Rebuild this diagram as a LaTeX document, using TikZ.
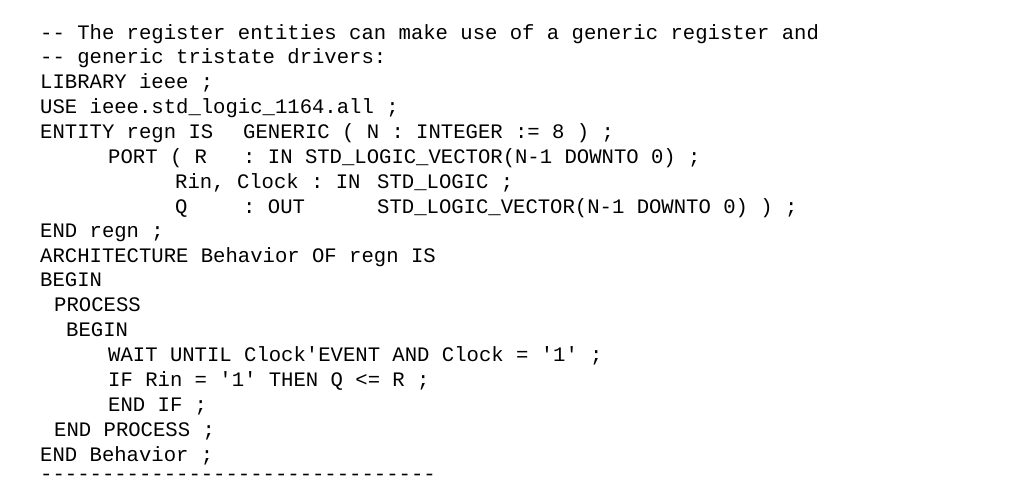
\documentclass[tikz,border=0pt]{standalone}
\usepackage{fontspec}
\setmonofont{Liberation Mono}
\begin{document}
\begin{tikzpicture}[x=1pt,y=-1pt,t/.style={anchor=base west,inner sep=0pt,font=\ttfamily\fontsize{20.6}{22}\selectfont}]
\useasboundingbox (0,0) rectangle (1024,483);
\fill[white] (0,0) rectangle (1024,483);
\node[t] (l1) at (40,39) {-- The register entities can make use of a generic register and};
\node[t] (l2) at (40,63) {-- generic tristate drivers:};
\node[t] (l3) at (40,88) {LIBRARY ieee ;};
\node[t] (l4) at (40,113) {USE ieee.std\_logic\_1164.all ;};
\node[t] (l5a) at (40,138) {ENTITY regn IS};
\node[t] (l5b) at (243,138) {GENERIC ( N : INTEGER := 8 ) ;};
\node[t] (l6a) at (108,163) {PORT ( R};
\node[t] (l6b) at (243,163) {: IN STD\_LOGIC\_VECTOR(N-1 DOWNTO 0) ;};
\node[t] (l7a) at (175,188) {Rin, Clock : IN};
\node[t] (l7b) at (377,188) {STD\_LOGIC ;};
\node[t] (l8a) at (175,213) {Q};
\node[t] (l8b) at (243,213) {: OUT};
\node[t] (l8c) at (377,213) {STD\_LOGIC\_VECTOR(N-1 DOWNTO 0) ) ;};
\node[t] (l9) at (40,237) {END regn ;};
\node[t] (l10) at (40,262) {ARCHITECTURE Behavior OF regn IS};
\node[t] (l11) at (40,286) {BEGIN};
\node[t] (l12) at (54,311) {PROCESS};
\node[t] (l13) at (66,336) {BEGIN};
\node[t] (l14) at (108,361) {WAIT UNTIL Clock'EVENT AND Clock = '1' ;};
\node[t] (l15) at (108,386) {IF Rin = '1' THEN Q <= R ;};
\node[t] (l16) at (108,411) {END IF ;};
\node[t] (l17) at (54,436) {END PROCESS ;};
\node[t] (l18) at (40,461) {END Behavior ;};
\node[t] (l19) at (40,480) {--------------------------------};
\end{tikzpicture}
\end{document}
